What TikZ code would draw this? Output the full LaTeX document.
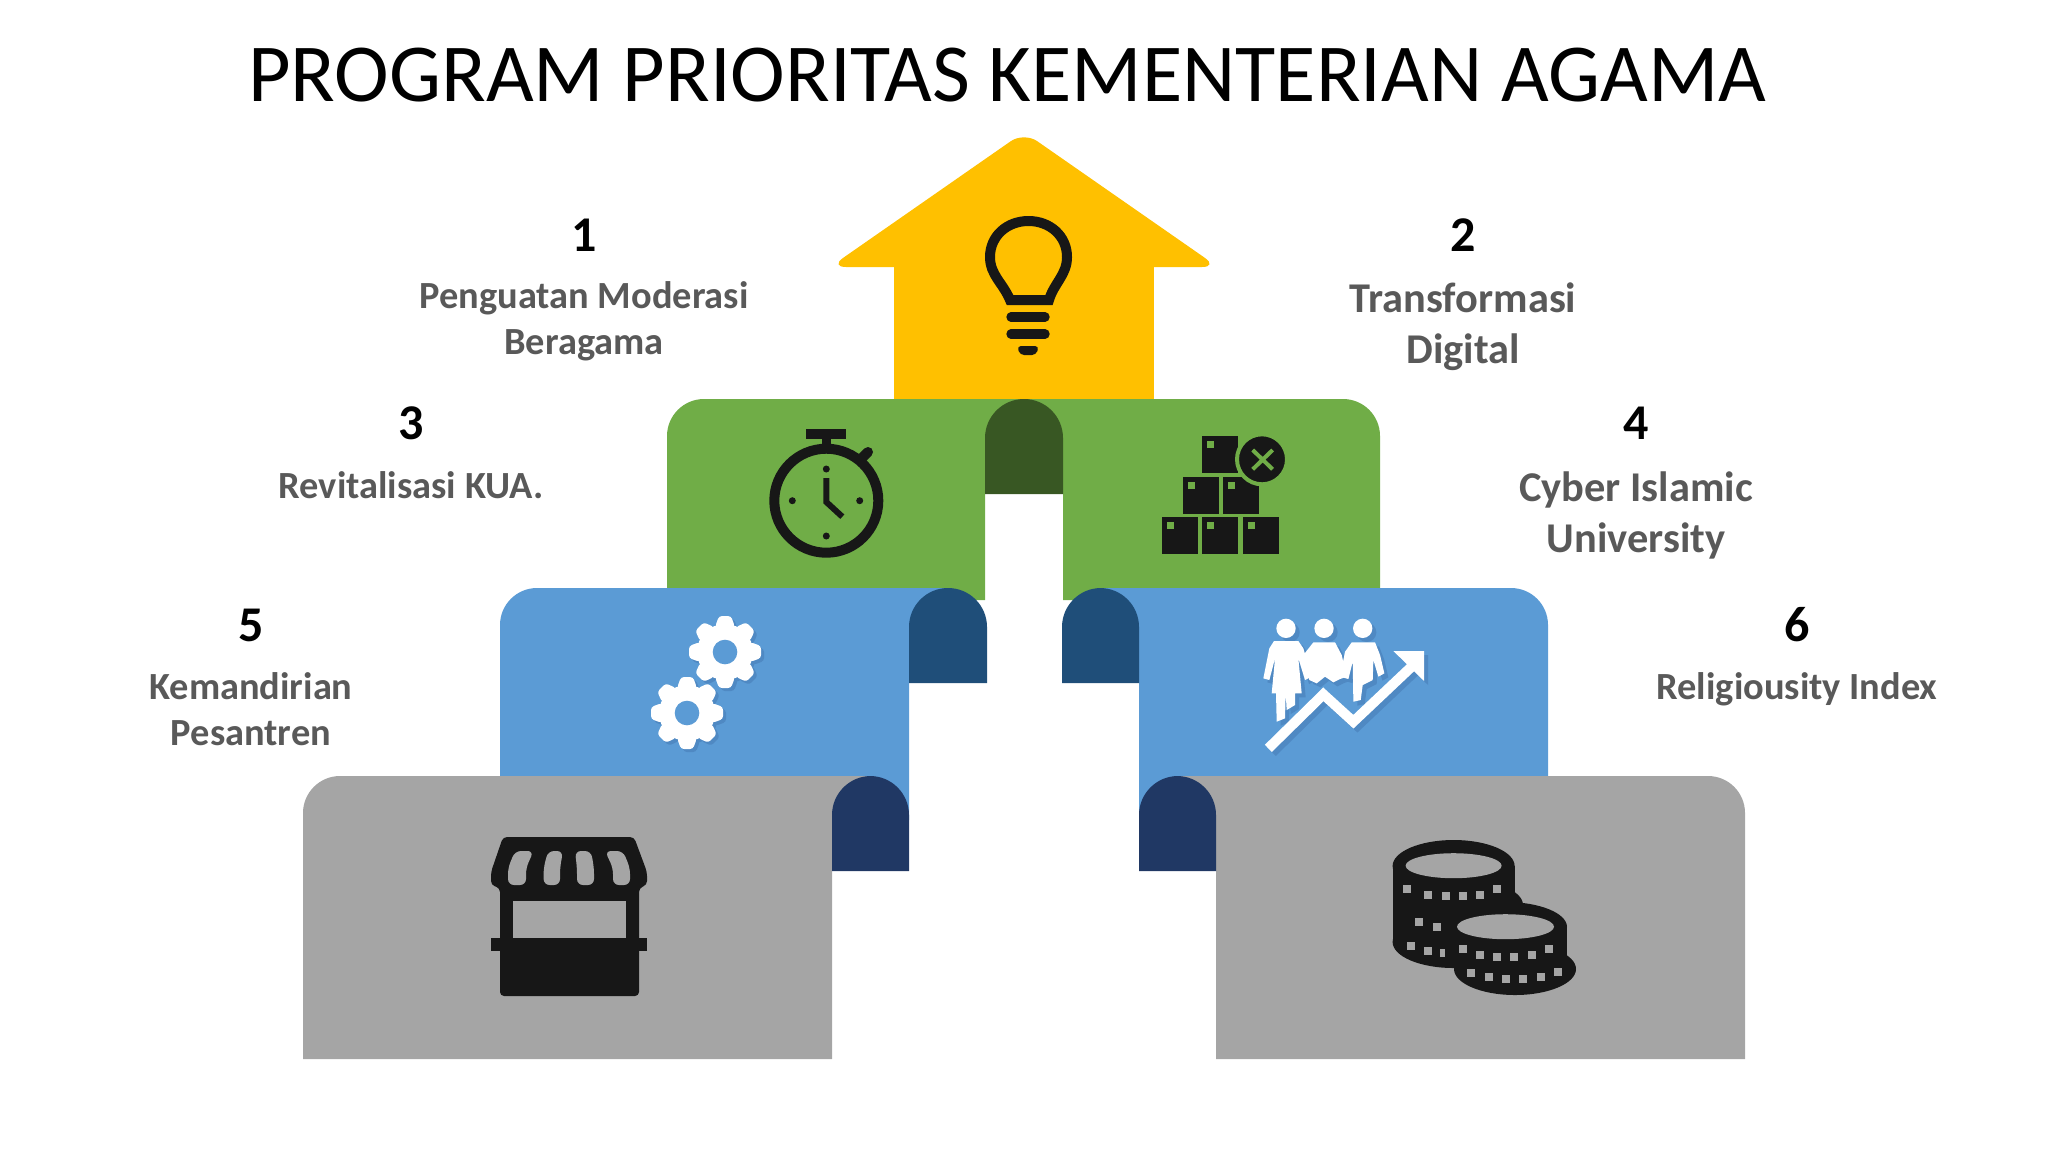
\documentclass[tikz,border=0pt]{standalone}
\usepackage{fontspec}
\setmainfont{Carlito}
\definecolor{roofyellow}{HTML}{FFC000}
\definecolor{stepgreen}{HTML}{70AD47}
\definecolor{stepblue}{HTML}{5B9BD5}
\definecolor{stepgrey}{HTML}{A5A5A5}
\definecolor{archgreen}{HTML}{385723}
\definecolor{archblue}{HTML}{1F4E79}
\definecolor{archnavy}{HTML}{203864}
\definecolor{iconblack}{HTML}{171717}
\definecolor{labelgrey}{HTML}{595959}
\definecolor{iconshade}{HTML}{4F89C3}
\tikzset{
  number/.style={font=\fontsize{25}{25}\selectfont\bfseries,text=black},
  smalllabel/.style={font=\fontsize{19.2}{23}\selectfont\bfseries,text=labelgrey,align=center},
  biglabel/.style={font=\fontsize{21.2}{25.5}\selectfont\bfseries,text=labelgrey,align=center}
}
\begin{document}
\begin{tikzpicture}
        [x=0.5pt,y=-0.5pt]
        \useasboundingbox (0,0) rectangle (2048,1152);

        \node[font=\fontsize{41.2}{41}\selectfont,text=black] (title) at (1007,75) {PROGRAM PRIORITAS KEMENTERIAN AGAMA};

        % roof
        \fill[roofyellow,rounded corners=8pt] (830,267) -- (1024,132) -- (1218,267) -- cycle;
        \fill[roofyellow] (894,260) rectangle (1154,420);

        % steps, from the top down
        \fill[stepgreen] (667,600) [rounded corners=18.5pt] -- (667,399) [sharp corners] -- (1024,399) -- (1024,440) -- (985,440) -- (985,600) -- cycle;
        \fill[stepgreen] (1380,600) [rounded corners=18.5pt] -- (1380,399) [sharp corners] -- (1024,399) -- (1024,440) -- (1063,440) -- (1063,600) -- cycle;
        \fill[archgreen] (985,494) [rounded corners=19.5pt] -- (985,399) -- (1063,399) [sharp corners] -- (1063,494) -- cycle;

        \fill[stepblue] (500,820) [rounded corners=18.5pt] -- (500,588) [sharp corners] -- (948,588) -- (948,630) -- (909,630) -- (909,820) -- cycle;
        \fill[stepblue] (1548,820) [rounded corners=18.5pt] -- (1548,588) [sharp corners] -- (1100,588) -- (1100,630) -- (1139,630) -- (1139,820) -- cycle;
        \fill[archblue] (909,683) [rounded corners=19.5pt] -- (909,588) -- (987,588) [sharp corners] -- (987,683) -- cycle;
        \fill[archblue] (1062,683) [rounded corners=19.5pt] -- (1062,588) -- (1139,588) [sharp corners] -- (1139,683) -- cycle;

        \fill[stepgrey] (303,1059) [rounded corners=18.5pt] -- (303,776) [sharp corners] -- (870,776) -- (870,820) -- (832,820) -- (832,1059) -- cycle;
        \fill[stepgrey] (1745,1059) [rounded corners=18.5pt] -- (1745,776) [sharp corners] -- (1178,776) -- (1178,820) -- (1216,820) -- (1216,1059) -- cycle;
        \fill[archnavy] (832,871) [rounded corners=19.5pt] -- (832,776) -- (909,776) [sharp corners] -- (909,871) -- cycle;
        \fill[archnavy] (1139,871) [rounded corners=19.5pt] -- (1139,776) -- (1216,776) [sharp corners] -- (1216,871) -- cycle;

        % bulb
        \draw[iconblack,line width=5pt] (1010,300) .. controls (1003,283) and (990,275) .. (990,257) .. controls (990,236) and (1007,221) .. (1028.5,221) .. controls (1050,221) and (1067,236) .. (1067,257) .. controls (1067,275) and (1054,283) .. (1049,300) -- cycle;
        \foreach \y in {317,334}
        {\draw[iconblack,line width=4.7pt,line cap=round] (1011,\y) -- (1045,\y);}
        \fill[iconblack,rounded corners=2pt] (1017,346) -- (1039,346) -- (1036,355) -- (1020,355) -- cycle;

        % stopwatch
        \draw[iconblack,line width=5pt] (826.3,500.7) circle[radius=52];
        \fill[iconblack] (806,429) rectangle (846,439);
        \fill[iconblack] (822,439) rectangle (831,449);
        \draw[iconblack,line width=5pt,line cap=round] (861,459) -- (868,452);
        \foreach \dx/\dy in {826.3/469,792.3/500.7,859.7/500.7,826.3/536}
        {\fill[iconblack] (\dx,\dy) circle[radius=3.5];}
        \draw[iconblack,line width=3pt] (826.3,478) -- (826.3,502) -- (842.3,516.7);

        % boxes
        \foreach \bx/\by in {1202/436,1183/477,1223/477,1162/517,1202/517,1243/517}
        {\fill[iconblack] (\bx,\by) rectangle ++(36,36.5);
         \fill[stepgreen] (\bx+5,\by+5) rectangle ++(7,7);}
        \fill[iconblack,draw=stepgreen,line width=2pt] (1262,459.3) circle[radius=25];
        \draw[stepgreen,line width=2pt] (1252.7,450) -- (1272.6,469.3) (1272.6,450) -- (1252.7,469.3);

        % gears
        \foreach \dd/\col in {3/iconshade,0/white}
        {\foreach \gx/\gy in {725/652,687/713}
         {\begin{scope}[shift={(\gx+\dd,\gy+\dd)}]
            \fill[\col] (0,0) circle[radius=28];
            \foreach \a in {0,45,...,315}
            {\fill[\col,rotate=\a,rounded corners=1.5pt] (-10,-25) -- (-6,-36) -- (6,-36) -- (10,-25) -- cycle;}
          \end{scope}}}
        \foreach \gx/\gy in {725/652,687/713}
        {\fill[stepblue] (\gx,\gy) circle[radius=12.3];}

        % people and rising line
        \foreach \dd/\col in {4/iconshade,0/white}
        {\begin{scope}[shift={(1250+\dd,605+\dd)},x=0.1667pt,y=-0.1667pt,\col]
           \foreach \hx in {108,222,338}
           {\fill (\hx,70) circle[radius=29];}
           \fill (72,108) -- (145,108) -- (160,130) -- (185,215) -- (165,225) -- (145,160) -- (155,265) -- (135,265) -- (135,300) -- (110,315) -- (107,265) -- (105,340) -- (80,350) -- (78,265) -- (65,265) -- (75,160) -- (58,225) -- (40,220) -- (58,130) -- cycle;
           \fill (190,112) -- (255,112) -- (275,150) -- (290,215) -- (270,222) -- (250,232) -- (225,215) -- (200,235) -- (178,225) -- (160,150) -- cycle;
           \fill (305,112) -- (375,112) -- (390,150) -- (403,205) -- (385,215) -- (370,165) -- (368,225) -- (338,240) -- (332,285) -- (310,290) -- (308,170) -- (295,222) -- (270,215) -- (285,140) -- cycle;
           \draw[\col,line width=5pt] (55,430) -- (220,268) -- (310,350) -- (490,180);
           \fill (430,138) -- (522,138) -- (522,228) -- cycle;
         \end{scope}}

        % shop
        \fill[iconblack,rounded corners=2pt] (503,837) -- (634,837) -- (647,872) -- (647,885) -- (639,888) -- (639,996) -- (500,996) -- (500,888) -- (491,885) -- (491,872) -- cycle;
        \fill[stepgrey] (512.5,900.7) rectangle (626.4,937.7);
        \fill[iconblack] (491,937.7) rectangle (647,951.3);
        \foreach \ta/\tb/\tc/\td in {515/533.6/526/508,548/563/560/543.6,575/591/594/577,605/623/630/613}
        {\fill[stepgrey,rounded corners=3pt] (\ta,851) -- (\tb,851) -- (\tc,868) -- (\tc,885) -- (\td,885) -- (\td,868) -- cycle;}

        % coins
        \fill[iconblack] (1453.6,866) ellipse[x radius=61,y radius=26];
        \fill[iconblack] (1392.6,866) rectangle (1514.6,942);
        \fill[iconblack] (1460,905) ellipse[x radius=63,y radius=26];
        \fill[iconblack] (1453.6,942) ellipse[x radius=61,y radius=26];
        \fill[stepgrey] (1453.6,865.7) ellipse[x radius=48,y radius=12.5];
        \foreach \wx/\wy in {1407/889.3,1427.5/895,1445.5/896,1462.5/896,1480/895,1497/889.3,1419/921.7,1436.5/926.7,1411/945.7,1427.5/950.7,1444/952.7}
        {\fill[stepgrey] (\wx-4,\wy-4) rectangle ++(8,8);}
        \fill[iconblack] (1506,927) ellipse[x radius=61,y radius=25];
        \fill[iconblack] (1515,969) ellipse[x radius=61,y radius=26];
        \fill[iconblack] (1445,927) rectangle (1567,960);
        \fill[stepgrey] (1505.5,926.7) ellipse[x radius=48.5,y radius=12.5];
        \foreach \wx/\wy in {1462.5/949.3,1480/955,1497/956.7,1514/956.7,1532/955,1549/949.3,1471.4/973.3,1488.6/977.3,1506/978.7,1523/978.7,1541/976.7,1558/971.7}
        {\fill[stepgrey] (\wx-4,\wy-4) rectangle ++(8,8);}

        % numbers and labels
        \node[number] (num1) at (584,235) {1};
        \node[smalllabel] (label1) at (584,321) {Penguatan Moderasi\\Beragama};
        \node[number] (num2) at (1463,235) {2};
        \node[biglabel] (label2) at (1463,327) {Transformasi\\Digital};
        \node[number] (num3) at (411,423) {3};
        \node[smalllabel] (label3) at (411,485) {Revitalisasi KUA.};
        \node[number] (num4) at (1636,423) {4};
        \node[biglabel] (label4) at (1636,515) {Cyber Islamic\\University};
        \node[number] (num5) at (251,625) {5};
        \node[smalllabel] (label5) at (251,709) {Kemandirian\\Pesantren};
        \node[number] (num6) at (1797,625) {6};
        \node[smalllabel] (label6) at (1797,689) {Religiousity Index};
      \end{tikzpicture}
\end{document}
